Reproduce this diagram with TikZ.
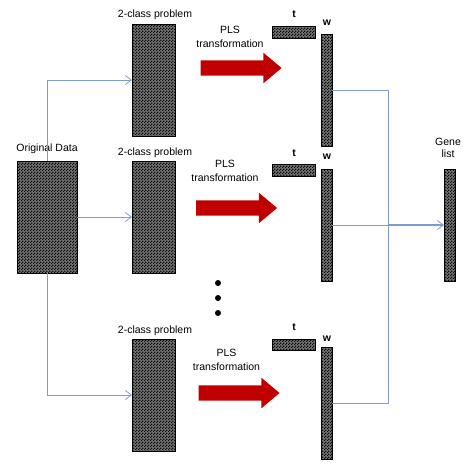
\documentclass[tikz,border=0pt]{standalone}
\usepackage{fontspec}
\setmainfont{Liberation Sans}
\usetikzlibrary{patterns,shapes.arrows,arrows.meta}
\pgfdeclarepatternformonly{checks}{\pgfqpoint{0pt}{0pt}}{\pgfqpoint{3pt}{3pt}}{\pgfqpoint{3pt}{3pt}}{%
  \pgfpathrectangle{\pgfqpoint{0pt}{0pt}}{\pgfqpoint{1.5pt}{1.5pt}}%
  \pgfpathrectangle{\pgfqpoint{1.5pt}{1.5pt}}{\pgfqpoint{1.5pt}{1.5pt}}%
  \pgfusepath{fill}}
\definecolor{lnblue}{RGB}{125,155,205}
\definecolor{arred}{RGB}{192,0,0}
\begin{document}
\begin{tikzpicture}[x=1pt,y=-1pt,
  mat/.style={draw=black, line width=0.7pt, preaction={fill=black!55}, pattern=checks, pattern color=black!95, inner sep=0pt, outer sep=0pt},
  lbl/.style={font=\fontsize{10.5}{12}\selectfont, inner sep=0pt},
  blbl/.style={font=\fontsize{10.5}{12}\selectfont\bfseries, inner sep=0pt},
  conn/.style={draw=lnblue, line width=0.9pt},
  carrow/.style={conn, -{Straight Barb[length=6pt,width=9pt,line width=0.8pt]}},
  bigarrow/.style={single arrow, fill=arred, draw=none, minimum height=81pt, inner xsep=0pt, inner ysep=7.5pt, single arrow head extend=7.5pt, single arrow tip angle=80},
  dot/.style={circle, fill=black, inner sep=0pt, minimum size=6pt}
]
\useasboundingbox (0,0) rectangle (474,474);
% original data
\node[mat, minimum width=60pt, minimum height=112pt] (orig) at (47,217) {};
\node[lbl] (origl) at (47,149) {Original Data};
% problem boxes
\node[mat, minimum width=43pt, minimum height=112pt] (p1) at (153.5,80) {};
\node[mat, minimum width=43pt, minimum height=112pt] (p2) at (153.5,217) {};
\node[mat, minimum width=43pt, minimum height=112pt] (p3) at (153.5,395) {};
\node[lbl] (p1l) at (155,15) {2-class problem};
\node[lbl] (p2l) at (155,152.5) {2-class problem};
\node[lbl] (p3l) at (155,331) {2-class problem};
% red arrows
\node[bigarrow] (a1) at (236.5,68) {};
\node[bigarrow] (a2) at (232,208) {};
\node[bigarrow] (a3) at (234.5,393) {};
\node[lbl, align=center] (a1l) at (230,37) {PLS\\[1.5pt]transformation};
\node[lbl, align=center] (a2l) at (225,171) {PLS\\[1.5pt]transformation};
\node[lbl, align=center] (a3l) at (226.5,360) {PLS\\[1.5pt]transformation};
% t boxes
\node[mat, minimum width=43pt, minimum height=11.5pt] (t1) at (293.5,32.5) {};
\node[mat, minimum width=43pt, minimum height=11.5pt] (t2) at (293.5,170.5) {};
\node[mat, minimum width=43pt, minimum height=11.5pt] (t3) at (293.5,345) {};
\node[blbl] (t1l) at (294,14) {t};
\node[blbl] (t2l) at (294,153) {t};
\node[blbl] (t3l) at (294,327) {t};
% w boxes
\node[mat, minimum width=11pt, minimum height=112pt] (w1) at (326.5,90) {};
\node[mat, minimum width=11pt, minimum height=112pt] (w2) at (326.5,225) {};
\node[mat, minimum width=11pt, minimum height=112pt] (w3) at (326.5,403) {};
\node[blbl] (w1l) at (327,23) {w};
\node[blbl] (w2l) at (327,157) {w};
\node[blbl] (w3l) at (327,339) {w};
% gene list
\node[mat, minimum width=11pt, minimum height=112pt] (gene) at (449.5,225) {};
\node[lbl, align=center] (genel) at (448,148) {Gene\\[0pt]list};
% dots
\node[dot] (d1) at (218,283) {};
\node[dot] (d2) at (218,298) {};
\node[dot] (d3) at (218,313) {};
% connectors
\coordinate (J) at (388,225);
\draw[carrow] (orig.north) |- (p1.west);
\draw[carrow] (orig.east) -- (p2.west);
\draw[carrow] (orig.south) |- (p3.west);
\draw[conn] (w1.east) -| (J);
\draw[conn] (w3.east) -| (J);
\draw[conn] (w2.east) -- (J);
\draw[carrow, line width=1.6pt] (J) -- (gene.west);
\end{tikzpicture}
\end{document}
